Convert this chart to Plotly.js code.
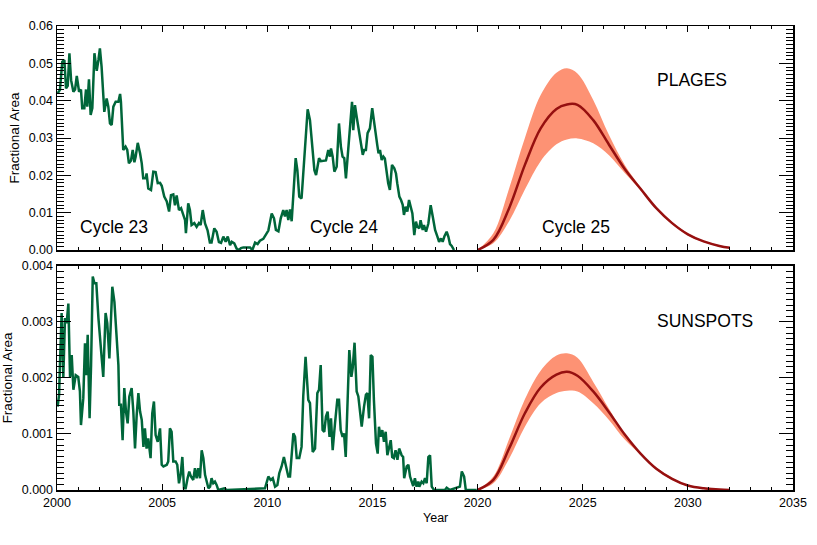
<!DOCTYPE html>
<html>
<head>
<meta charset="utf-8">
<script src="https://cdn.plot.ly/plotly-3.0.1.min.js"></script>
<style>html,body{margin:0;padding:0;background:#fff;}#chart{width:817px;height:545px;}</style>
</head>
<body>
<div id="chart"></div>
<script>
// ---------- Observed plage fractional area (Cycles 23-24) ----------
var plageYears = [
 2000.03,2000.14,2000.25,2000.35,2000.43,2000.51,2000.59,2000.67,2000.78,2000.86,
 2000.94,2001.05,2001.14,2001.20,2001.30,2001.38,2001.44,2001.52,2001.60,2001.68,
 2001.78,2001.89,2001.97,2002.04,2002.12,2002.25,2002.36,2002.44,2002.52,2002.60,
 2002.68,2002.79,2002.92,2003.00,2003.04,2003.15,2003.26,2003.34,2003.42,2003.52,
 2003.60,2003.68,2003.74,2003.84,2003.95,2004.03,2004.10,2004.22,2004.26,2004.34,
 2004.47,2004.58,2004.69,2004.79,2004.90,2004.98,2005.10,2005.22,2005.33,2005.42,
 2005.53,2005.61,2005.69,2005.80,2005.90,2006.01,2006.09,2006.13,2006.24,2006.32,
 2006.40,2006.53,2006.64,2006.75,2006.83,2006.93,2007.04,2007.16,2007.27,2007.35,
 2007.48,2007.59,2007.70,2007.80,2007.91,2008.02,2008.12,2008.23,2008.31,2008.43,
 2008.54,2008.65,2008.75,2008.86,2009.02,2009.18,2009.29,2009.42,2009.54,2009.65,
 2009.81,2009.97,2010.05,2010.21,2010.32,2010.41,2010.53,2010.64,2010.76,2010.84,
 2010.92,2011.00,2011.08,2011.16,2011.24,2011.35,2011.43,2011.52,2011.63,2011.71,
 2011.82,2011.92,2012.03,2012.14,2012.24,2012.32,2012.38,2012.46,2012.55,2012.66,
 2012.79,2012.90,2012.98,2013.03,2013.11,2013.19,2013.30,2013.41,2013.50,2013.58,
 2013.66,2013.74,2013.85,2013.93,2014.03,2014.09,2014.17,2014.25,2014.35,2014.46,
 2014.54,2014.61,2014.69,2014.77,2014.88,2014.99,2015.07,2015.17,2015.23,2015.29,
 2015.36,2015.44,2015.52,2015.59,2015.67,2015.75,2015.83,2015.93,2016.04,2016.12,
 2016.18,2016.28,2016.36,2016.44,2016.50,2016.58,2016.66,2016.74,2016.82,2016.90,
 2016.99,2017.07,2017.13,2017.23,2017.29,2017.39,2017.45,2017.55,2017.66,2017.77,
 2017.87,2017.98,2018.09,2018.17,2018.26,2018.34,2018.42,2018.53,2018.61,2018.69,
 2018.77,2018.88
];
var plageArea = [
 0.0420,0.0429,0.0504,0.0509,0.0433,0.0440,0.0527,0.0455,0.0424,0.0430,
 0.0466,0.0424,0.0430,0.0380,0.0380,0.0430,0.0384,0.0457,0.0362,0.0380,
 0.0527,0.0480,0.0509,0.0540,0.0491,0.0370,0.0406,0.0384,0.0339,0.0335,
 0.0384,0.0397,0.0397,0.0418,0.0397,0.0268,0.0277,0.0268,0.0232,0.0240,
 0.0268,0.0235,0.0250,0.0287,0.0259,0.0232,0.0192,0.0192,0.0205,0.0165,
 0.0161,0.0210,0.0209,0.0179,0.0180,0.0172,0.0143,0.0130,0.0103,0.0147,
 0.0149,0.0120,0.0146,0.0107,0.0112,0.0089,0.0080,0.0045,0.0125,0.0107,
 0.0067,0.0072,0.0062,0.0072,0.0067,0.0107,0.0071,0.0053,0.0020,0.0020,
 0.0058,0.0049,0.0021,0.0019,0.0036,0.0022,0.0036,0.0013,0.0022,0.0018,
 0.0004,0.0000,0.0005,0.0007,0.0007,0.0007,0.0000,0.0020,0.0016,0.0025,
 0.0030,0.0045,0.0052,0.0098,0.0085,0.0054,0.0050,0.0085,0.0107,0.0090,
 0.0107,0.0080,0.0109,0.0077,0.0152,0.0246,0.0214,0.0143,0.0138,0.0201,
 0.0304,0.0377,0.0348,0.0268,0.0214,0.0201,0.0223,0.0246,0.0238,0.0238,
 0.0240,0.0268,0.0250,0.0272,0.0250,0.0210,0.0223,0.0339,0.0277,0.0250,
 0.0246,0.0192,0.0268,0.0321,0.0397,0.0321,0.0388,0.0357,0.0321,0.0272,
 0.0255,0.0268,0.0268,0.0313,0.0326,0.0380,0.0345,0.0295,0.0281,0.0259,
 0.0268,0.0241,0.0250,0.0245,0.0205,0.0179,0.0161,0.0228,0.0219,0.0205,
 0.0179,0.0143,0.0134,0.0121,0.0094,0.0116,0.0103,0.0134,0.0116,0.0098,
 0.0040,0.0076,0.0063,0.0058,0.0080,0.0054,0.0067,0.0049,0.0071,0.0120,
 0.0089,0.0054,0.0036,0.0022,0.0031,0.0022,0.0036,0.0049,0.0036,0.0016,
 0.0011,0.0000
];

// ---------- Observed sunspot fractional area ----------
var spotYears = [
 2000.03,2000.10,2000.14,2000.22,2000.30,2000.38,2000.46,2000.54,2000.62,2000.70,
 2000.78,2000.89,2001.01,2001.09,2001.14,2001.25,2001.33,2001.39,2001.46,2001.55,
 2001.62,2001.70,2001.78,2001.87,2001.97,2002.09,2002.20,2002.31,2002.39,2002.49,
 2002.63,2002.73,2002.84,2002.92,2002.96,2003.04,2003.12,2003.20,2003.28,2003.36,
 2003.44,2003.55,2003.63,2003.71,2003.79,2003.87,2003.95,2004.03,2004.11,2004.18,
 2004.26,2004.34,2004.45,2004.53,2004.61,2004.69,2004.79,2004.90,2004.98,2005.06,
 2005.22,2005.29,2005.37,2005.45,2005.53,2005.64,2005.72,2005.80,2005.88,2005.96,
 2006.04,2006.12,2006.21,2006.29,2006.37,2006.48,2006.56,2006.64,2006.72,2006.80,
 2006.88,2006.96,2007.04,2007.12,2007.20,2007.28,2007.35,2007.43,2007.51,2007.59,
 2007.67,2007.96,2008.07,2009.89,2010.05,2010.16,2010.26,2010.37,2010.48,2010.57,
 2010.68,2010.79,2010.89,2011.00,2011.08,2011.16,2011.24,2011.32,2011.40,2011.52,
 2011.63,2011.71,2011.82,2011.95,2012.03,2012.16,2012.27,2012.38,2012.46,2012.54,
 2012.63,2012.71,2012.79,2012.87,2012.96,2013.03,2013.11,2013.22,2013.33,2013.41,
 2013.49,2013.58,2013.65,2013.73,2013.81,2013.90,2014.00,2014.06,2014.15,2014.25,
 2014.33,2014.49,2014.60,2014.69,2014.76,2014.84,2014.92,2015.00,2015.07,2015.17,
 2015.25,2015.31,2015.39,2015.47,2015.55,2015.63,2015.71,2015.79,2015.87,2015.94,
 2016.02,2016.10,2016.19,2016.27,2016.39,2016.46,2016.51,2016.63,2016.71,2016.79,
 2016.87,2016.94,2017.02,2017.10,2017.18,2017.23,2017.34,2017.42,2017.50,2017.58,
 2017.66,2017.74,2017.82,2017.93,2018.45,2018.53,2018.68,2019.00,2019.16,2019.25,
 2019.36,2019.44,2019.96
];
var spotArea = [
 0.00149,0.00170,0.00223,0.00316,0.00200,0.00307,0.00298,0.00333,0.00202,0.00241,
 0.00179,0.00205,0.00202,0.00176,0.00116,0.00164,0.00262,0.00205,0.00277,0.00128,
 0.00223,0.00381,0.00369,0.00369,0.00307,0.00253,0.00202,0.00316,0.00298,0.00235,
 0.00363,0.00336,0.00277,0.00223,0.00152,0.00152,0.00089,0.00182,0.00140,0.00119,
 0.00167,0.00182,0.00140,0.00074,0.00134,0.00173,0.00140,0.00125,0.00077,0.00110,
 0.00074,0.00092,0.00057,0.00137,0.00158,0.00098,0.00086,0.00110,0.00045,0.00042,
 0.00045,0.00051,0.00110,0.00104,0.00051,0.00051,0.00045,0.00012,0.00027,0.00059,
 0.00003,0.00003,0.00021,0.00033,0.00024,0.00018,0.00039,0.00021,0.00039,0.00021,
 0.00071,0.00057,0.00027,0.00015,0.00003,0.00006,0.00021,0.00012,0.00015,0.00009,
 0.00000,0.00003,0.00000,0.00003,0.00024,0.00018,0.00021,0.00006,0.00009,0.00030,
 0.00042,0.00059,0.00042,0.00024,0.00024,0.00059,0.00101,0.00095,0.00057,0.00057,
 0.00077,0.00167,0.00238,0.00161,0.00155,0.00068,0.00074,0.00173,0.00179,0.00223,
 0.00107,0.00104,0.00131,0.00140,0.00095,0.00128,0.00071,0.00119,0.00161,0.00161,
 0.00107,0.00095,0.00101,0.00059,0.00140,0.00250,0.00202,0.00217,0.00263,0.00176,
 0.00167,0.00113,0.00149,0.00170,0.00173,0.00128,0.00241,0.00238,0.00161,0.00083,
 0.00065,0.00113,0.00095,0.00107,0.00086,0.00104,0.00062,0.00074,0.00089,0.00059,
 0.00057,0.00071,0.00054,0.00074,0.00062,0.00059,0.00021,0.00042,0.00045,0.00024,
 0.00012,0.00007,0.00021,0.00006,0.00015,0.00006,0.00015,0.00012,0.00021,0.00012,
 0.00059,0.00062,0.00006,0.00000,0.00000,0.00004,0.00000,0.00004,0.00006,0.00033,
 0.00024,0.00000,0.00000
];

// ---------- Cycle 25 forecast ----------
var fcYears = [2020,2020.75,2021.5,2022.25,2023,2023.75,2024.25,2024.75,2025.5,2026.25,2027,2027.75,2028.5,2029.25,2030,2030.75,2031.5,2032];
var plageMid   = [0,0.0027,0.0112,0.0228,0.0326,0.0378,0.0390,0.0389,0.0348,0.0282,0.0217,0.0164,0.0112,0.0072,0.0042,0.0023,0.0011,0.0006];
var plageHigh  = [0,0.0045,0.0165,0.0300,0.0415,0.0475,0.0487,0.0473,0.0402,0.0308,0.0228,0.0168,0.0115,0.0075,0.0045,0.0025,0.0013,0.0007];
var plageLow   = [0,0.0018,0.0077,0.0162,0.0238,0.0283,0.0296,0.0299,0.0286,0.0254,0.0206,0.0160,0.0109,0.0069,0.0039,0.0021,0.0009,0.0005];
var spotMid    = [0,0.00018,0.00074,0.00137,0.00183,0.00206,0.00211,0.00204,0.00176,0.00139,0.00099,0.00065,0.00038,0.00020,0.00008,0.00003,0.00001,0];
var spotHigh   = [0,0.00024,0.00091,0.00162,0.00213,0.00240,0.00244,0.00236,0.00193,0.00145,0.00099,0.00066,0.00040,0.00022,0.00009,0.00004,0.00001,0];
var spotLow    = [0,0.00012,0.00056,0.00113,0.00155,0.00173,0.00177,0.00176,0.00155,0.00125,0.00090,0.00063,0.00036,0.00018,0.00007,0.00002,0,0];

var cycleLabels = ['Cycle 23','Cycle 24','Cycle 25'];
var cycleLabelYears = [2002.7,2013.65,2024.68];
var panelNames = ['PLAGES','SUNSPOTS'];

var FONT = 'Liberation Sans, Arial, Helvetica, sans-serif';
var GREEN = '#00663a';
var DARKRED = '#961010';
var BAND = '#fd9274';

function band(x, lo, hi, xa, ya) {
  return [
    {x:x, y:lo, xaxis:xa, yaxis:ya, mode:'lines', line:{width:0, shape:'spline', color:BAND}, hoverinfo:'skip'},
    {x:x, y:hi, xaxis:xa, yaxis:ya, mode:'lines', line:{width:0, shape:'spline', color:BAND}, fill:'tonexty', fillcolor:BAND, hoverinfo:'skip'}
  ];
}

var traces = [].concat(
  band(fcYears, plageLow, plageHigh, 'x', 'y'),
  [{x:fcYears, y:plageMid, xaxis:'x', yaxis:'y', mode:'lines', line:{color:DARKRED, width:2.5, shape:'spline'}}],
  [{x:plageYears, y:plageArea, xaxis:'x', yaxis:'y', mode:'lines', line:{color:GREEN, width:2.5}}],
  band(fcYears, spotLow, spotHigh, 'x2', 'y2'),
  [{x:fcYears, y:spotMid, xaxis:'x2', yaxis:'y2', mode:'lines', line:{color:DARKRED, width:2.5, shape:'spline'}}],
  [{x:spotYears, y:spotArea, xaxis:'x2', yaxis:'y2', mode:'lines', line:{color:GREEN, width:2.5}}]
);

function xAxis(anchor, labels) {
  return {
    anchor: anchor, domain:[0,1], range:[2000,2035], tick0:2000, dtick:5,
    ticks:'inside', ticklen:6, tickwidth:1, tickcolor:'#000',
    minor:{ticks:'inside', dtick:1, ticklen:3, tickwidth:1, tickcolor:'#000', showgrid:false},
    showline:true, linecolor:'#000', linewidth:1.5, mirror:'ticks',
    showgrid:false, zeroline:false, showticklabels:labels,
    tickfont:{family:FONT, size:12.5, color:'#000'}
  };
}
function yAxis(anchor, domain, range, dtick, minorDtick, fmt) {
  return {
    anchor: anchor, domain:domain, range:range, tick0:0, dtick:dtick, tickformat:fmt,
    ticks:'inside', ticklen:14, tickwidth:1, tickcolor:'#000',
    minor:{ticks:'inside', dtick:minorDtick, ticklen:7, tickwidth:1, tickcolor:'#000', showgrid:false},
    showline:true, linecolor:'#000', linewidth:1.5, mirror:'ticks',
    showgrid:false, zeroline:false,
    tickfont:{family:FONT, size:12.5, color:'#000'},
    title:{text:'Fractional Area', font:{family:FONT, size:13.5, color:'#000'}, standoff:6}
  };
}

var annotations = [];
var cycleY = [0.0063, 0.0063, 0.0063];
for (var i = 0; i < cycleLabels.length; i++) {
  annotations.push({x:cycleLabelYears[i], y:cycleY[i], xref:'x', yref:'y', text:cycleLabels[i],
    showarrow:false, xanchor:'center', yanchor:'middle', font:{family:FONT, size:17.5, color:'#000'}});
}
annotations.push({x:0.8125, y:0.0455, xref:'paper', yref:'y', text:panelNames[0], showarrow:false,
  xanchor:'left', yanchor:'middle', font:{family:FONT, size:17.5, color:'#000'}});
annotations.push({x:0.8125, y:0.00302, xref:'paper', yref:'y2', text:panelNames[1], showarrow:false,
  xanchor:'left', yanchor:'middle', font:{family:FONT, size:17.5, color:'#000'}});
annotations.push({x:0.5136, y:-0.060, xref:'paper', yref:'paper', text:'Year', showarrow:false,
  xanchor:'center', yanchor:'middle', font:{family:FONT, size:12.5, color:'#000'}});

var layout = {
  width:817, height:545,
  margin:{l:57, r:24, t:26, b:55},
  paper_bgcolor:'#fff', plot_bgcolor:'#fff',
  showlegend:false,
  font:{family:FONT, size:12, color:'#000'},
  xaxis: xAxis('y', false),
  yaxis: yAxis('x', [0.5172,1], [0,0.06], 0.01, 0.001, '.2f'),
  xaxis2: xAxis('y2', true),
  yaxis2: yAxis('x2', [0,0.4828], [0,0.004], 0.001, 0.0001, '.3f'),
  annotations: annotations
};

Plotly.newPlot('chart', traces, layout, {displayModeBar:false, staticPlot:true});
</script>
</body>
</html>
